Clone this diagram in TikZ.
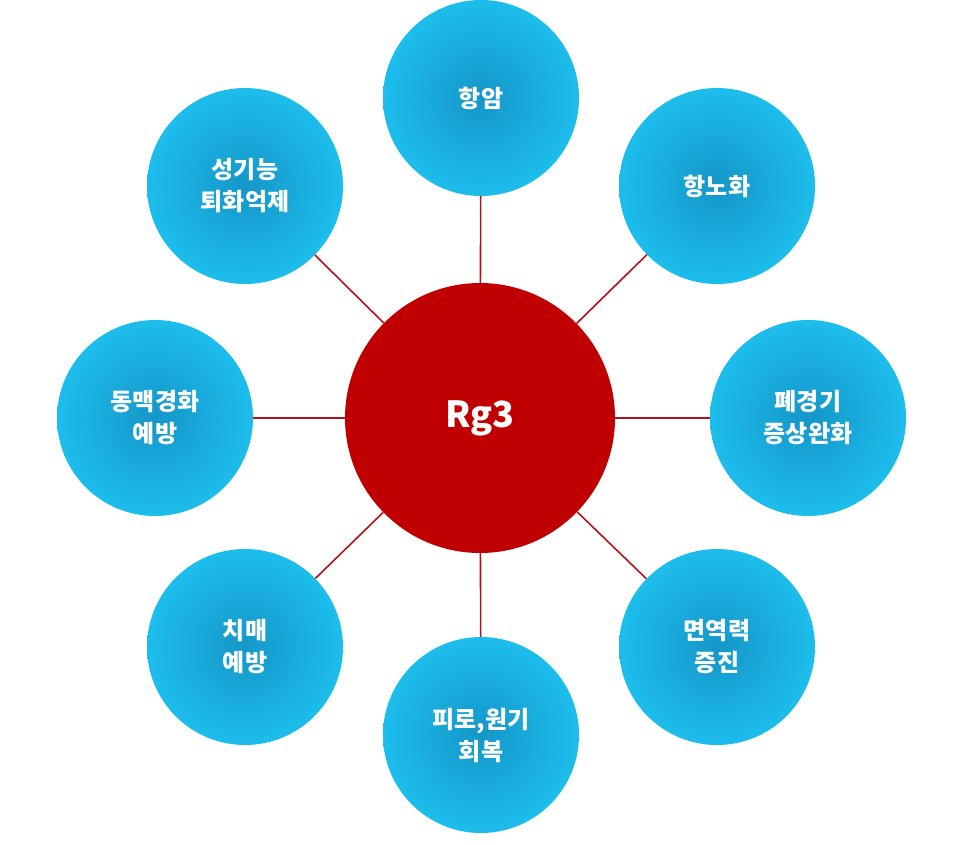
\documentclass[tikz,border=0pt]{standalone}
\usepackage{fontspec}
\setmainfont{Noto Sans CJK KR}
\usetikzlibrary{positioning}
\definecolor{hubred}{HTML}{C00000}
\definecolor{linkred}{HTML}{B3121B}
\definecolor{bluein}{HTML}{1596C9}
\definecolor{blueout}{HTML}{1CBDEC}
\tikzset{
  hub/.style={circle,fill=hubred,minimum size=270pt,inner sep=0pt,text=white,font=\bfseries\fontsize{36}{42}\selectfont},
  effect/.style={circle,shading=radial,inner color=bluein,outer color=blueout,minimum size=196pt,inner sep=0pt,text=white,align=center,font=\bfseries\fontsize{24}{32}\selectfont},
  link/.style={draw=linkred,line width=1.6pt}
}
\begin{document}
\begin{tikzpicture}[x=1pt,y=-1pt]
		\useasboundingbox (0,0) rectangle (973,844);
		\node[hub] at (480,418)(rg){Rg3};
		\node[effect] at (481,98)(cancer){항암};
		\node[effect] at (717,186)(aging){항노화};
		\node[effect] at (808,418)(meno){폐경기\\증상완화};
		\node[effect] at (717,647)(immune){면역력\\증진};
		\node[effect] at (481,735)(fatigue){피로,원기\\회복};
		\node[effect] at (245,647)(dementia){치매\\예방};
		\node[effect] at (155,418)(artery){동맥경화\\예방};
		\node[effect] at (245,186)(sexual){성기능\\퇴화억제};
		\foreach \n in {cancer,aging,meno,immune,fatigue,dementia,artery,sexual}
		  \path[link] (rg) -- (\n);
\end{tikzpicture}
\end{document}
